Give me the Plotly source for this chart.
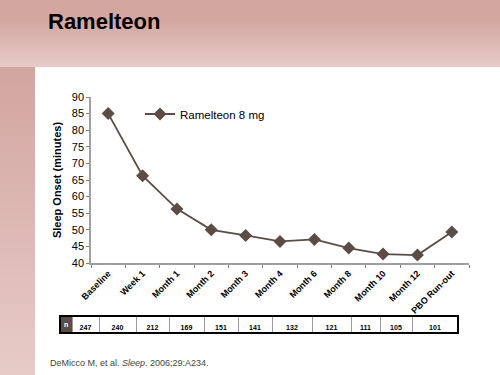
import plotly.graph_objects as go
import numpy as np

categories = ["Baseline", "Week 1", "Month 1", "Month 2", "Month 3", "Month 4",
              "Month 6", "Month 8", "Month 10", "Month 12", "PBO Run-out"]
sleep_onset = [85.0, 66.3, 56.3, 50.0, 48.3, 46.5, 47.1, 44.5, 42.7, 42.4, 49.3]
series_name = "Ramelteon 8 mg"
n_label = "n"
n_values = [247, 240, 212, 169, 151, 141, 132, 121, 111, 105, 101]
y_ticks = list(range(40, 95, 5))

W, H = 500, 375
LINE = "#5b4d45"

def px(x):
    return x / W

def py(y):
    return 1 - y / H

fig = go.Figure()

fig.add_trace(go.Scatter(
    x=categories, y=sleep_onset, name=series_name, mode="lines+markers",
    line=dict(color=LINE, width=1.8),
    marker=dict(symbol="diamond", size=10, color=LINE),
))

# table of n
col_w = [12, 27, 37, 33, 35, 34, 34, 40, 39, 29, 32, 46]
head_vals = [""] + [f"<b>{v}</b>" for v in n_values]
fig.add_trace(go.Table(
    domain=dict(x=[px(60), px(458)], y=[py(334), py(316)]),
    columnwidth=col_w,
    header=dict(values=head_vals, height=17,
                fill=dict(color=["#5b4d45"] + ["white"] * len(n_values)),
                line=dict(color="#9a9a9a", width=1),
                align="center",
                font=dict(family="Liberation Sans, Arial", size=7, color="black")),
    cells=dict(values=[[] for _ in head_vals], height=0,
               line=dict(width=0), fill=dict(color="rgba(0,0,0,0)")),
))

shapes = []
top = np.array([0xd3, 0xa6, 0xa0])
bot = np.array([0xe8, 0xcc, 0xc8])
nb = 40
for i in range(nb):
    y0 = 67 * i / nb
    t = max(0.0, (y0 - 18) / (67 - 18))
    c = top + (bot - top) * min(1.0, t)
    shapes.append(dict(type="rect", xref="paper", yref="paper",
                       x0=0, x1=1, y0=py(67), y1=py(y0),
                       line=dict(width=0), fillcolor=f"rgb({int(c[0])},{int(c[1])},{int(c[2])})",
                       layer="below"))
for i in range(nb):
    y0 = 67 + (H - 67) * i / nb
    t = (y0 - 67) / (H - 67)
    c = top + (bot - top) * t
    shapes.append(dict(type="rect", xref="paper", yref="paper",
                       x0=0, x1=px(35), y0=0, y1=py(y0),
                       line=dict(width=0), fillcolor=f"rgb({int(c[0])},{int(c[1])},{int(c[2])})",
                       layer="below"))
shapes.append(dict(type="rect", xref="paper", yref="paper",
                   x0=px(60), x1=px(458), y0=py(333), y1=py(316),
                   line=dict(color="black", width=2), fillcolor="rgba(0,0,0,0)"))

annotations = [
    dict(text="<b>Ramelteon</b>", xref="paper", yref="paper", x=px(46), y=py(21),
         xanchor="left", yanchor="middle", showarrow=False,
         font=dict(family="Liberation Sans, Arial", size=22, color="black")),
    dict(text="DeMicco M, et al. <i>Sleep</i>. 2006;29:A234.", xref="paper", yref="paper",
         x=px(48), y=py(363), xanchor="left", yanchor="middle", showarrow=False,
         font=dict(family="Liberation Sans, Arial", size=9, color="#444444")),
    dict(text=f"<b>{n_label}</b>", xref="paper", yref="paper", x=px(66), y=py(324.5),
         xanchor="center", yanchor="middle", showarrow=False,
         font=dict(family="Liberation Sans, Arial", size=7, color="white")),
]

fig.update_layout(
    width=W, height=H, margin=dict(l=0, r=0, t=0, b=0, autoexpand=False),
    paper_bgcolor="white", plot_bgcolor="rgba(0,0,0,0)",
    shapes=shapes, annotations=annotations,
    showlegend=True,
    legend=dict(x=px(140), y=py(114), xanchor="left", yanchor="middle",
                bgcolor="rgba(0,0,0,0)", itemwidth=30,
                font=dict(family="Liberation Sans, Arial", size=11.5, color="black")),
    xaxis=dict(domain=[px(91), px(469)], type="category", tickson="boundaries",
               automargin=False,
               showgrid=False, showline=True, linecolor="#a0a0a0", linewidth=1.5,
               ticks="outside", ticklen=3, tickcolor="#808080",
               tickangle=-45, tickfont=dict(family="Liberation Sans, Arial", size=9, color="black",
                                            weight="bold"),
               range=[-0.5, len(categories) - 0.5], fixedrange=True),
    yaxis=dict(domain=[py(263), py(97)], range=[40, 90], tickvals=y_ticks,
               automargin=False,
               showgrid=False, showline=True, linecolor="#a0a0a0", linewidth=1.5,
               ticks="outside", ticklen=3, tickcolor="#808080",
               tickfont=dict(family="Liberation Sans, Arial", size=11, color="black"),
               title=dict(text="<b>Sleep Onset (minutes)</b>", standoff=8,
                          font=dict(family="Liberation Sans, Arial", size=11, color="black")),
               zeroline=False, fixedrange=True),
)

fig.write_html("out.html")
